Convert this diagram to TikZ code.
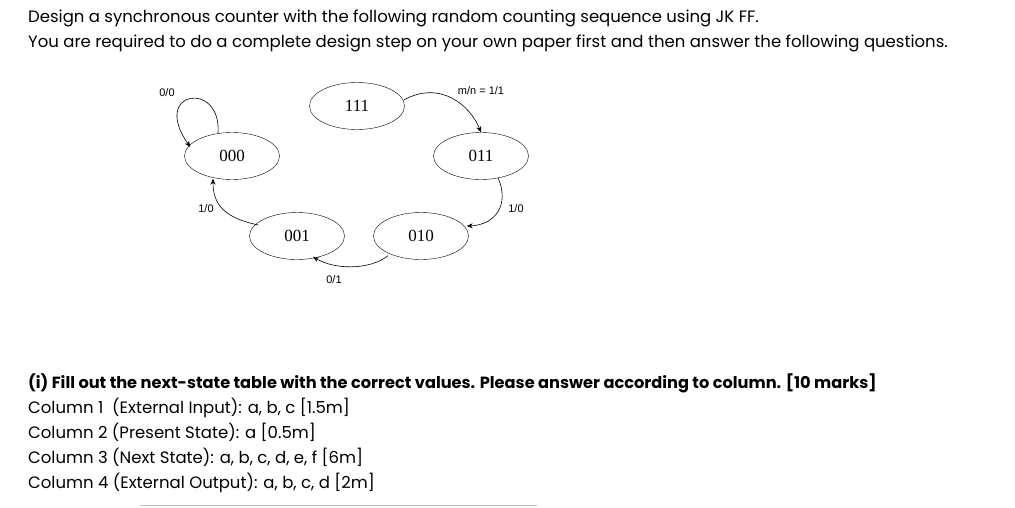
\documentclass[tikz,border=0pt]{standalone}
\usepackage{fontspec}
\setmainfont{Poppins}
\newfontfamily\lsans{Liberation Sans}
\newfontfamily\lserif{Liberation Serif}
\usetikzlibrary{arrows.meta,shapes.geometric,calc}
\begin{document}
\begin{tikzpicture}[x=1pt,y=-1pt,
  st/.style={draw,ellipse,minimum width=95pt,minimum height=47pt,inner sep=0pt,font=\lserif\fontsize{17}{17}\selectfont},
  tr/.style={-{Stealth[length=6pt,width=5pt]},line width=0.6pt},
  lb/.style={font=\lsans\fontsize{11}{11}\selectfont},
  tx/.style={anchor=base west,inner sep=0pt,font=\fontsize{16.5}{19}\selectfont}]
\useasboundingbox (0,0) rectangle (1015,507);
\node[tx] (t1) at (28,22) {Design a synchronous counter with the following random counting sequence using JK FF.};
\node[tx] (t2) at (28,47) {You are required to do a complete design step on your own paper first and then answer the following questions.};
\node[st] (s000) at (232,156) {000};
\node[st] (s111) at (357,106) {111};
\node[st] (s011) at (481,156) {011};
\node[st] (s001) at (297,236) {001};
\node[st] (s010) at (421,236) {010};
\coordinate (la) at ($(s000.north)+(-14,1)$);
\coordinate (lb0) at ($(s000.west)+(6,-9)$);
\coordinate (a1) at ($(s111.east)+(-1,-6)$);
\coordinate (a2) at ($(s011.south)+(17,-2)$);
\coordinate (a3) at ($(s010.east)+(-2,-10)$);
\coordinate (a4) at ($(s010.south)+(-33,-4)$);
\coordinate (a5) at ($(s001.south)+(16,-3)$);
\coordinate (a6) at ($(s001.west)+(9,-11)$);
\coordinate (a7) at ($(s000.south)+(-19,-1)$);
\draw[tr] (la) .. controls (222,80) and (150,90) .. (lb0);
\draw[tr] (a1) .. controls (440,80) and (470,105) .. (s011.north);
\draw[tr] (a2) .. controls (510,205) and (495,225) .. (a3);
\draw[tr] (a4) .. controls (370,270) and (335,270) .. (a5);
\draw[tr] (a6) .. controls (225,218) and (213,205) .. (a7);
\node[lb] (l1) at (167,93) {0/0};
\node[lb] (l2) at (481,91) {m/n = 1/1};
\node[lb] (l3) at (206,209) {1/0};
\node[lb] (l4) at (516,209) {1/0};
\node[lb] (l5) at (334,280) {0/1};
\node[tx,font=\fontsize{16.2}{19}\selectfont\bfseries] (q) at (28,388) {(i) Fill out the next-state table with the correct values. Please answer according to column. [10 marks]};
\node[tx] (c1) at (28,413) {Column 1 \ (External Input): a, b, c [1.5m]};
\node[tx] (c2) at (28,438) {Column 2 (Present State): a [0.5m]};
\node[tx] (c3) at (28,463) {Column 3 (Next State): a, b, c, d, e, f [6m]};
\node[tx] (c4) at (28,488) {Column 4 (External Output): a, b, c, d [2m]};
\draw[gray!50,line width=0.6pt] (140,505) -- (537,505);
\end{tikzpicture}
\end{document}
